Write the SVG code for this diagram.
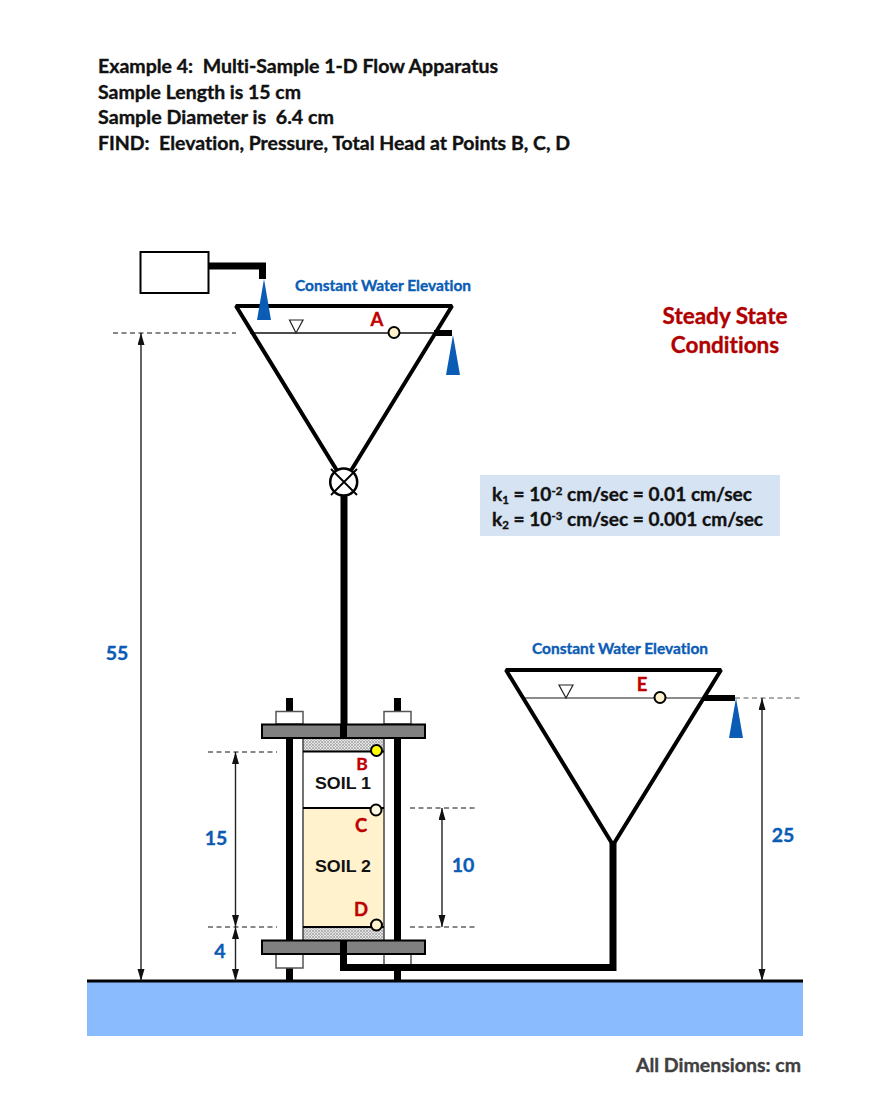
<svg xmlns="http://www.w3.org/2000/svg" width="874" height="1118" viewBox="0 0 874 1118">
<style>
text{font-family:"Lato","Carlito","Open Sans","Liberation Sans",sans-serif;font-weight:700;white-space:pre;font-variant-ligatures:none;stroke-width:.35}
.h{font-size:18px;fill:#111;stroke:#111}
.ce{font-size:14.5px;fill:#0B5CB5;stroke:#0B5CB5}
.dim{font-size:19.5px;fill:#0B5CB5;stroke:#0B5CB5;text-anchor:middle}
.pt{font-size:18.5px;fill:#C00000;stroke:#C00000;text-anchor:middle}
.ss{font-size:22.5px;fill:#B00000;stroke:#B00000;text-anchor:middle}
.soil{font-family:"Liberation Sans",Arial,sans-serif;font-size:17px;fill:#111;text-anchor:middle;stroke:none}
.k{font-size:19.100px;fill:#111;stroke:#111}
.pipe{fill:none;stroke:#000;stroke-width:7}
.tank{fill:none;stroke:#000;stroke-width:4;stroke-linejoin:bevel}
.dash{stroke:#111;stroke-width:1;stroke-dasharray:5 3.500;fill:none}
.dimline{stroke:#222;stroke-width:1.400;fill:none;marker-start:url(#a);marker-end:url(#a)}
.drop{fill:#0B5CB5}
.pnt{stroke:#000;stroke-width:2}
.nut{fill:#fff;stroke:#555;stroke-width:1.500}
.plate{fill:#808080;stroke:#000;stroke-width:2}
</style>
<defs>
<marker id="a" markerWidth="12" markerHeight="14" refX="12" refY="3.500" orient="auto-start-reverse" markerUnits="userSpaceOnUse"><path d="M0 0L12 3.500L0 7Z" fill="#111"/></marker>
<pattern id="sand" width="3" height="3" patternUnits="userSpaceOnUse"><rect width="3" height="3" fill="#e4e4e4"/><circle cx="1" cy="1" r=".8" fill="#777"/><circle cx="2.500" cy="2.500" r=".5" fill="#999"/></pattern>
</defs>
<rect width="874" height="1118" fill="#fff"/>
<g id="heading">
<text class="h" x="98" y="73" textLength="400" lengthAdjust="spacingAndGlyphs">Example 4:  Multi-Sample 1-D Flow Apparatus</text>
<text class="h" x="98" y="99" textLength="203" lengthAdjust="spacingAndGlyphs">Sample Length is 15 cm</text>
<text class="h" x="98" y="124" textLength="236" lengthAdjust="spacingAndGlyphs">Sample Diameter is  6.4 cm</text>
<text class="h" x="98" y="150" textLength="472" lengthAdjust="spacingAndGlyphs">FIND:  Elevation, Pressure, Total Head at Points B, C, D</text>
</g>
<g id="ground">
<rect x="87" y="982" width="716" height="54" fill="#8ABBFF"/>
<rect x="87" y="979.500" width="716" height="3" fill="#000"/>
</g>
<g id="connectors">
<path class="pipe" d="M209 266H262.500V279" />
<path class="pipe" d="M344 495V724"/>
<path d="M434 333H452" stroke="#000" stroke-width="6" fill="none"/>
<path d="M704 698H735" stroke="#000" stroke-width="6" fill="none"/>
<path class="dash" d="M113 333H236"/>
<path class="dash" d="M735 698H803" stroke-opacity=".7"/>
<path class="dash" d="M208 752H277M208 927H277M410 808H476M410 927H476"/>
<path class="dimline" d="M141 333V981"/>
<path class="dimline" d="M762 698V981"/>
<path class="dimline" d="M235.500 752V927"/>
<path class="dimline" d="M235.500 927V981"/>
<path class="dimline" d="M442 808V927"/>
</g>
<g id="supply-box"><rect x="140.500" y="252" width="68" height="41" fill="#fff" stroke="#000" stroke-width="2"/></g>
<g id="tank-top">
<path d="M250 333H434" stroke="#111" stroke-width="1.300" fill="none"/>
<path class="tank" d="M236 306H452L344 482Z" />
<path d="M289.500 320H303L296 333Z" fill="#fff" stroke="#222" stroke-width="1.200"/>
<path class="drop" d="M264 279L271 320H257Z"/>
<path class="drop" d="M453 335L460 375H446Z"/>
<circle class="pnt" cx="394" cy="332.500" r="5.500" fill="#FFF2CC"/>
<text class="pt" x="377" y="326">A</text>
<text class="ce" x="295" y="291" textLength="176" lengthAdjust="spacingAndGlyphs">Constant Water Elevation</text>
</g>
<g id="valve">
<circle cx="343.700" cy="482" r="13.500" fill="#fff" stroke="#000" stroke-width="2.500"/>
<path d="M331 469L357 495M357 469L331 495" stroke="#000" stroke-width="1.800"/>
</g>
<g id="column">
<path d="M289.500 698V712M289.500 738V941M289.500 967V981M397.500 698V712M397.500 738V941M397.500 967V981" stroke="#000" stroke-width="7" fill="none"/>
<rect x="303" y="738" width="81" height="203" fill="#fff"/>
<rect x="303" y="808" width="81" height="119" fill="#FFF2CC"/>
<rect x="303" y="738" width="81" height="14" fill="url(#sand)"/>
<rect x="303" y="927" width="81" height="14" fill="url(#sand)"/>
<path d="M303 738V941M384 738V941" stroke="#444" stroke-width="1.500"/>
<path d="M303 751.500H384M303 808H384M303 927H384" stroke="#000" stroke-width="2"/>
<path class="nut" d="M276 724V711.500H303V724ZM384 724V711.500H411V724ZM276 954V968H303V954ZM384 954V968H411V954Z"/>
<path class="pipe" d="M343.500 941V967.500H613V843"/>
<rect class="plate" x="262" y="724.500" width="163" height="13.500"/>
<rect class="plate" x="262" y="940.500" width="163" height="13.500"/>
<path d="M343.500 724V738M343.500 940V955" stroke="#000" stroke-width="7"/>
<text class="soil" x="343" y="789" textLength="56" lengthAdjust="spacingAndGlyphs">SOIL 1</text>
<text class="soil" x="343" y="872" textLength="56" lengthAdjust="spacingAndGlyphs">SOIL 2</text>
</g>
<g id="point-B"><circle class="pnt" cx="376.500" cy="750.500" r="5.500" fill="#FFFF00"/><text class="pt" x="362" y="770" style="font-size:17.500px">B</text></g>
<g id="point-C"><circle class="pnt" cx="376" cy="810" r="5.500" fill="#FFF8E0"/><text class="pt" x="361" y="832">C</text></g>
<g id="point-D"><circle class="pnt" cx="376.500" cy="925" r="5.500" fill="#FFF2CC"/><text class="pt" x="361" y="916">D</text></g>
<g id="tank-lower">
<path d="M523 698H704" stroke="#666" stroke-width="1.600" fill="none"/>
<path class="tank" d="M506 670H721L613 845Z"/>
<path d="M559 685H573L566 698Z" fill="#fff" stroke="#222" stroke-width="1.200"/>
<path class="drop" d="M736 698L743 738H729Z"/>
<circle class="pnt" cx="660" cy="697.500" r="5.500" fill="#FFF2CC"/>
<text class="pt" x="642" y="691">E</text>
<text class="ce" x="532" y="654" textLength="176" lengthAdjust="spacingAndGlyphs">Constant Water Elevation</text>
</g>
<g id="labels">
<text class="dim" x="117" y="660">55</text>
<text class="dim" x="783" y="842">25</text>
<text class="dim" x="216" y="845">15</text>
<text class="dim" x="220" y="958">4</text>
<text class="dim" x="463" y="872">10</text>
<text class="ss" x="725" y="324">Steady State</text>
<text class="ss" x="725" y="353">Conditions</text>
<text x="801" y="1072" font-size="19.500" fill="#404040" stroke="#404040" text-anchor="end">All Dimensions: cm</text>
</g>
<g id="k-box">
<rect x="480" y="475" width="300" height="61" fill="#D6E3F3"/>
<text class="k" x="492" y="501">k<tspan font-size="11.500" dy="3">1</tspan><tspan dy="-3"> = 10</tspan><tspan font-size="11.500" dy="-6">-2</tspan><tspan dy="6"> cm/sec = 0.01 cm/sec</tspan></text>
<text class="k" x="492" y="526">k<tspan font-size="11.500" dy="3">2</tspan><tspan dy="-3"> = 10</tspan><tspan font-size="11.500" dy="-6">-3</tspan><tspan dy="6"> cm/sec = 0.001 cm/sec</tspan></text>
</g>
</svg>
